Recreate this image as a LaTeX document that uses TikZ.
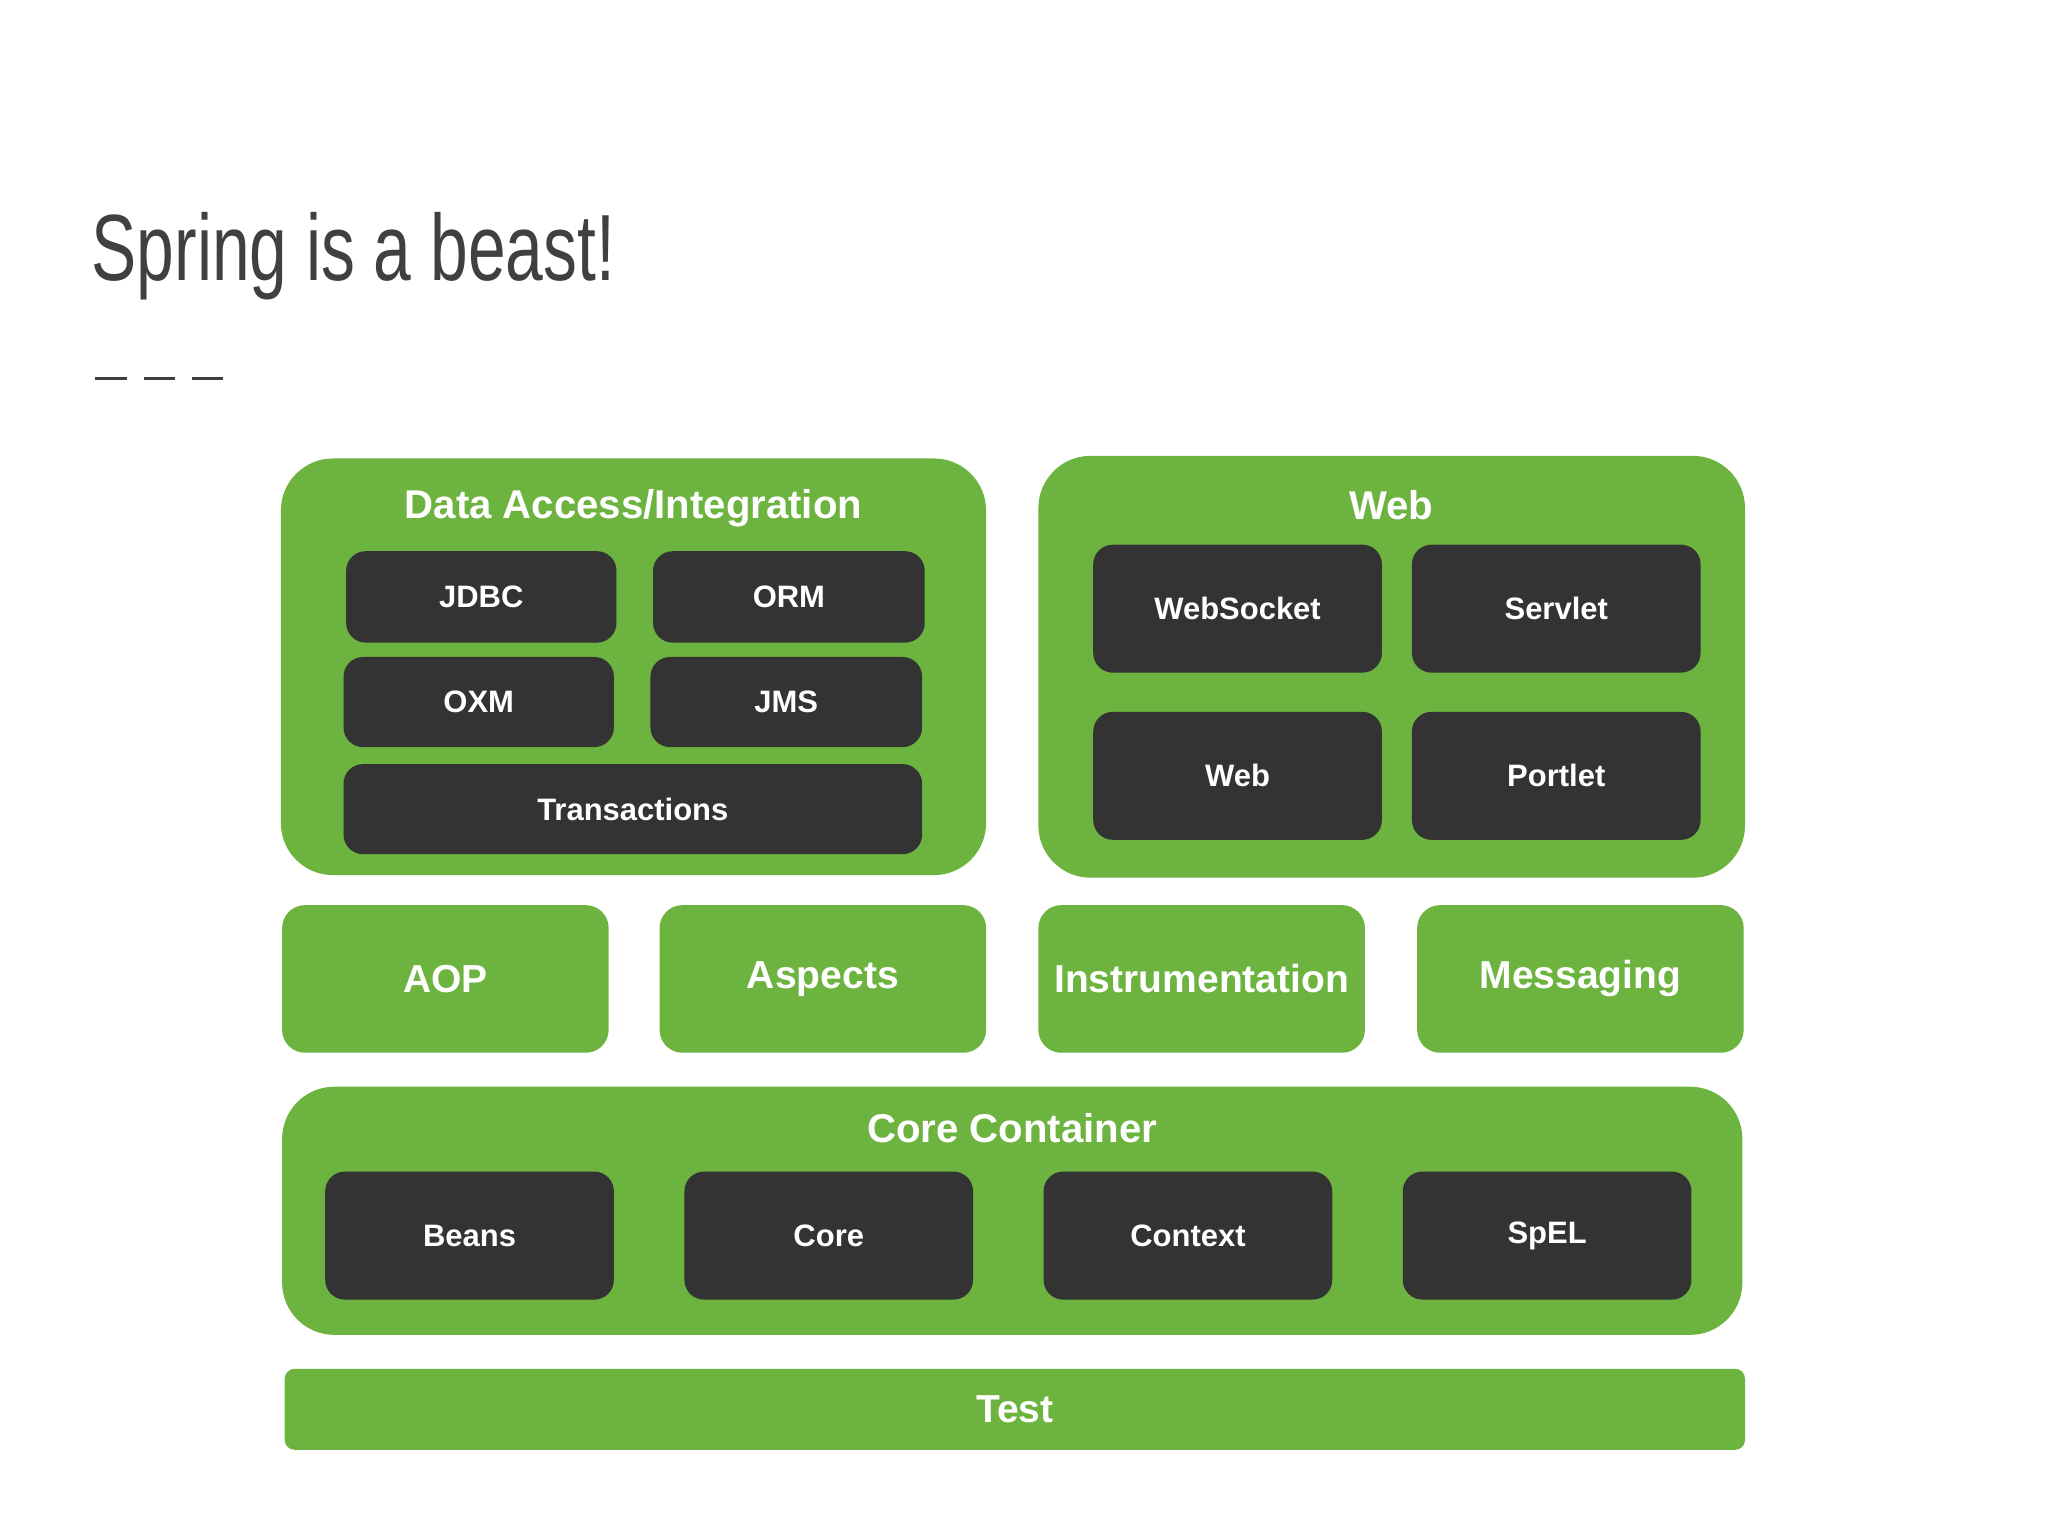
\documentclass[tikz,border=0pt]{standalone}
\usepackage{fontspec}
\setmainfont{Liberation Sans}
\newfontfamily\titlefont{Liberation Sans}[FakeStretch=0.72]
\usetikzlibrary{fit}
\definecolor{sgreen}{HTML}{6DB33F}
\definecolor{sdark}{HTML}{333333}
\definecolor{stitle}{HTML}{404040}
\tikzset{x=0.02cm,y=-0.02cm,
 gbox/.style={fill=sgreen,draw=none,rounded corners=0.8cm,inner sep=0pt},
 mbox/.style={fill=sgreen,draw=none,rounded corners=0.35cm,inner sep=0pt,text=white,font=\bfseries\fontsize{17}{20}\selectfont},
 dbox/.style={fill=sdark,draw=none,rounded corners=0.3cm,inner sep=0pt,text=white,font=\bfseries\fontsize{13.5}{16}\selectfont},
 hdr/.style={text=white,font=\bfseries\fontsize{17.5}{20}\selectfont}}
\newcommand\bx[6]{\node[#1,fit={(#3,#4)(#5,#6)}] (#2) {};}
\begin{document}
\begin{tikzpicture}
\useasboundingbox[fill=white] (0,0) rectangle (1568,1176);
\node[anchor=west,text=stitle,font=\titlefont\fontsize{41}{48}\selectfont] (title) at (64,196) {Spring is a beast!};
\foreach \a in {73,110,147}{\draw[stitle,line width=1.5pt] (\a,290) -- (\a+24,290);}
% Data access
\bx{gbox}{da}{215}{351}{755}{670}
\node[hdr] (dah) at (485,389) {Data Access/Integration};
\bx{dbox}{jdbc}{265}{422}{472}{492}\node[dbox,fill=none] at (jdbc) {JDBC};
\bx{dbox}{orm}{500}{422}{708}{492}\node[dbox,fill=none] at (orm) {ORM};
\bx{dbox}{oxm}{263}{503}{470}{572}\node[dbox,fill=none] at (oxm) {OXM};
\bx{dbox}{jms}{498}{503}{706}{572}\node[dbox,fill=none] at (jms) {JMS};
\bx{dbox}{tx}{263}{585}{706}{654}\node[dbox,fill=none] at (tx) {Transactions};
% Web
\bx{gbox}{web}{795}{349}{1336}{672}
\node[hdr] (webh) at (1065,387) {Web};
\bx{dbox}{ws}{837}{417}{1058}{515}\node[dbox,fill=none] at (ws) {WebSocket};
\bx{dbox}{sv}{1081}{417}{1302}{515}\node[dbox,fill=none] at (sv) {Servlet};
\bx{dbox}{wb}{837}{545}{1058}{643}\node[dbox,fill=none] at (wb) {Web};
\bx{dbox}{pt}{1081}{545}{1302}{643}\node[dbox,fill=none] at (pt) {Portlet};
% middle row
\bx{mbox}{aop}{216}{693}{466}{806}\node[mbox,fill=none] at (aop) {AOP};
\bx{mbox}{asp}{505}{693}{755}{806}\node[mbox,fill=none] at (asp) {Aspects};
\bx{mbox}{ins}{795}{693}{1045}{806}\node[mbox,fill=none] at (ins) {Instrumentation};
\bx{mbox}{msg}{1085}{693}{1335}{806}\node[mbox,fill=none] at (msg) {Messaging};
% core
\bx{gbox}{cc}{216}{832}{1334}{1022}
\node[hdr] (cch) at (775,864) {Core Container};
\bx{dbox}{beans}{249}{897}{470}{995}\node[dbox,fill=none] at (beans) {Beans};
\bx{dbox}{core}{524}{897}{745}{995}\node[dbox,fill=none] at (core) {Core};
\bx{dbox}{ctx}{799}{897}{1020}{995}\node[dbox,fill=none] at (ctx) {Context};
\bx{dbox}{spel}{1074}{897}{1295}{995}\node[dbox,fill=none] at (spel) {SpEL};
% test
\node[mbox,rounded corners=0.15cm,fit={(218,1048)(1336,1110)}] (test) {};
\node[mbox,fill=none] at (test) {Test};
\end{tikzpicture}
\end{document}
